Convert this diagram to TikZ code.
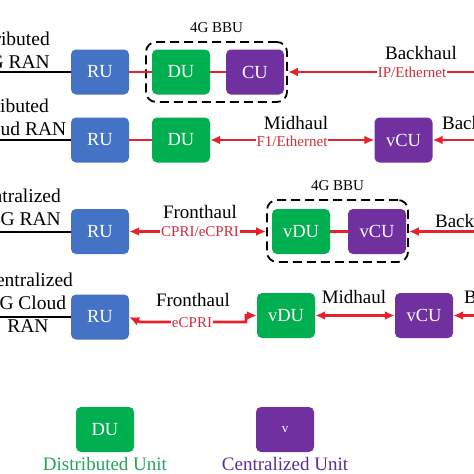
\documentclass[tikz,border=0pt]{standalone}
\usepackage{fontspec}
\setmainfont{Liberation Serif}
\usepackage{tikz}
\usetikzlibrary{arrows.meta}
\usetikzlibrary{positioning}
\definecolor{ruBlue}{HTML}{4472C4}
\definecolor{duGreen}{HTML}{00B050}
\definecolor{cuPurple}{HTML}{7030A0}
\definecolor{linkRed}{HTML}{E8202A}
\definecolor{labRed}{HTML}{D22C3A}
\definecolor{legGreen}{HTML}{1FA65A}
\definecolor{legPurple}{HTML}{5E2D91}
\tikzset{unitbox/.style={rectangle,rounded corners=5pt,minimum width=58pt,minimum height=45pt,inner sep=0pt,text=white,font=\fontsize{18.5}{18.5}\selectfont}}
\tikzset{RUbox/.style={unitbox,fill=ruBlue}}
\tikzset{DUbox/.style={unitbox,fill=duGreen}}
\tikzset{CUbox/.style={unitbox,fill=cuPurple}}
\tikzset{BBU/.style={draw=black,line width=1.8pt,dash pattern=on 9pt off 5pt,rounded corners=10pt,inner sep=0pt}}
\tikzset{BBUlab/.style={font=\fontsize{15}{15}\selectfont,inner sep=1pt}}
\tikzset{ranlab/.style={font=\fontsize{19.5}{23}\selectfont,inner sep=0pt}}
\tikzset{feed/.style={draw=black,line width=2pt}}
\tikzset{link/.style={draw=linkRed,line width=2.6pt}}
\tikzset{onearrow/.style={link,-{Latex[length=10pt,width=9pt]}}}
\tikzset{twoarrow/.style={link,{Latex[length=10pt,width=9pt]}-{Latex[length=10pt,width=9pt]}}}
\tikzset{hauls/.style={font=\fontsize{19}{19}\selectfont,inner sep=1pt}}
\tikzset{proto/.style={font=\fontsize{15}{15}\selectfont,text=labRed,fill=white,inner sep=1pt}}

\begin{document}
\begin{tikzpicture}[x=1pt,y=-1pt]

\useasboundingbox (0,0) rectangle (474,474);

% row 1
\node[ranlab,align=right,anchor=east] (ran1) at (50,50) {Distributed\\4G RAN};
\node[RUbox] (RU1) at (100,72) {RU};
\node[DUbox] (DU1) at (181,72) {DU};
\node[CUbox] (CU1) at (255,72) {CU};
\node[BBU,minimum width=141pt,minimum height=60pt] (BBU1) at (216.5,72) {};
\node[BBUlab,above=7pt of BBU1] (BBU1lab) {4G BBU};
\coordinate (L1) at (-5,72);
\coordinate (B1) at (480,72);
\draw[feed] (L1) -- (RU1);
\draw[link] (RU1) -- (DU1);
\draw[link] (DU1) -- (CU1);
\draw[onearrow] (B1) -- (BBU1.east);
\node[hauls] (bh1) at (421,53) {Backhaul};
\node[proto] (ip1) at (412,72) {IP/Ethernet};

% row 2
\node[ranlab,align=center] (ran2) at (5,117) {Distributed\\5G Cloud RAN};
\node[RUbox] (RU2) at (100,140) {RU};
\node[DUbox] (DU2) at (181,140) {DU};
\node[CUbox] (vCU2) at (403.5,140) {vCU};
\coordinate (L2) at (-5,140);
\coordinate (B2) at (480,140);
\draw[feed] (L2) -- (RU2);
\draw[link] (RU2) -- (DU2);
\draw[twoarrow] (DU2) -- (vCU2);
\draw[onearrow] (B2) -- (vCU2);
\node[hauls] (mh2) at (296,123) {Midhaul};
\node[proto] (f12) at (292,141) {F1/Ethernet};
\node[hauls] (bh2) at (478,123) {Backhaul};

% row 3
\node[ranlab,align=right,anchor=east] (ran3) at (61,207) {Centralized\\4G RAN};
\node[RUbox] (RU3) at (100,231.5) {RU};
\node[DUbox] (vDU3) at (301,231.5) {vDU};
\node[CUbox] (vCU3) at (377,231.5) {vCU};
\node[BBU,minimum width=141pt,minimum height=62pt] (BBU3) at (337.5,231) {};
\node[BBUlab,above=7pt of BBU3] (BBU3lab) {4G BBU};
\coordinate (L3) at (-5,231.5);
\coordinate (B3) at (480,231.5);
\draw[feed] (L3) -- (RU3);
\draw[twoarrow] (RU3.east) -- (BBU3.west |- RU3.east);
\draw[link] (vDU3) -- (vCU3);
\draw[onearrow] (B3) -- (BBU3.east |- B3);
\node[hauls] (fh3) at (200,212) {Fronthaul};
\node[proto] (cp3) at (200,232) {CPRI/eCPRI};
\node[hauls] (bh3) at (471,221) {Backhaul};

% row 4
\node[ranlab,align=center] (ran4) at (28,303) {Centralized\\5G Cloud\\RAN};
\node[RUbox] (RU4) at (100,317) {RU};
\node[DUbox] (vDU4) at (286,315.5) {vDU};
\node[CUbox] (vCU4) at (424,315.5) {vCU};
\coordinate (L4) at (-5,317);
\coordinate (F4a) at (140,322);
\coordinate (F4b) at (246,322);
\coordinate (B4) at (480,315.5);
\draw[feed] (L4) -- (RU4);
\draw[twoarrow] (RU4.east) -- (F4a) -- (F4b) |- (vDU4.west);
\draw[twoarrow] (vDU4) -- (vCU4);
\draw[onearrow] (B4) -- (vCU4);
\node[hauls] (fh4) at (193,300) {Fronthaul};
\node[proto] (cp4) at (192,323) {eCPRI};
\node[hauls] (mh4) at (354,297) {Midhaul};
\node[hauls] (bh4) at (500,297) {Backhaul};

% legend
\node[DUbox] (DUleg) at (105,429.5) {DU};
\node[CUbox,font=\fontsize{13}{13}\selectfont] (CUleg) at (285,429.5) {v};
\node[hauls,text=legGreen,below=4pt of DUleg] (DUlegtxt) {Distributed Unit};
\node[hauls,text=legPurple,below=4pt of CUleg] (CUlegtxt) {Centralized Unit};

\end{tikzpicture}
\end{document}
